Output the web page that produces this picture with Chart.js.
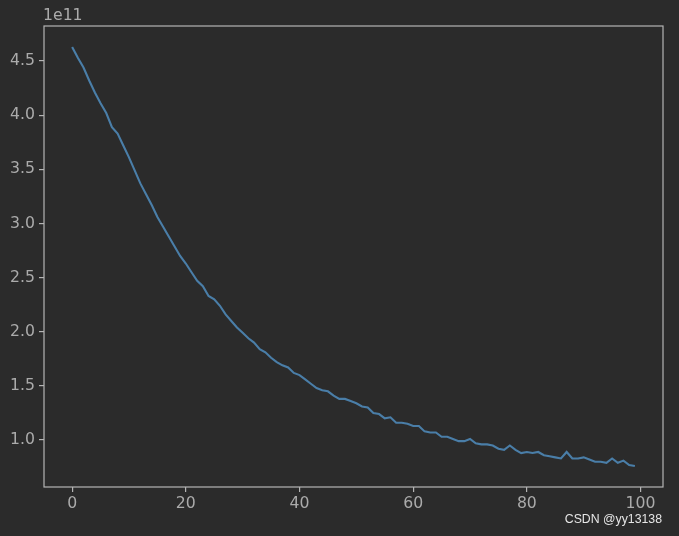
<!DOCTYPE html>
<html>
<head>
<meta charset="utf-8">
<script src="https://cdn.jsdelivr.net/npm/chart.js@4/dist/chart.umd.min.js"></script>
<style>
  html, body { margin: 0; padding: 0; background: #2b2b2b; }
  #wrap { width: 679px; height: 536px; position: relative; }
</style>
</head>
<body>
<div id="wrap"><canvas id="c" width="679" height="536"></canvas></div>
<script>
// ---- data (values in units of 1e11) ----
const SCALE = 1e11;
const epochs = Array.from({length: 100}, (_, i) => i);
const lossValues = [
  4.63, 4.53, 4.44, 4.32, 4.21, 4.11, 4.02, 3.89, 3.83, 3.72,
  3.61, 3.49, 3.37, 3.27, 3.17, 3.06, 2.97, 2.88, 2.79, 2.70,
  2.63, 2.55, 2.47, 2.42, 2.33, 2.30, 2.24, 2.16, 2.10, 2.04,
  1.99, 1.94, 1.90, 1.84, 1.81, 1.76, 1.72, 1.69, 1.67, 1.62,
  1.60, 1.56, 1.52, 1.48, 1.46, 1.45, 1.41, 1.38, 1.38, 1.36,
  1.34, 1.31, 1.30, 1.25, 1.24, 1.20, 1.21, 1.16, 1.16, 1.15,
  1.13, 1.13, 1.08, 1.07, 1.07, 1.03, 1.03, 1.01, 0.99, 0.99,
  1.01, 0.97, 0.96, 0.96, 0.95, 0.92, 0.91, 0.95, 0.91, 0.88,
  0.89, 0.88, 0.89, 0.86, 0.85, 0.84, 0.83, 0.89, 0.83, 0.83,
  0.84, 0.82, 0.80, 0.80, 0.79, 0.83, 0.79, 0.81, 0.77, 0.76
];
const xTicks = [0, 20, 40, 60, 80, 100];
const yTicks = [1.0, 1.5, 2.0, 2.5, 3.0, 3.5, 4.0, 4.5];
const offsetLabel = '1e11';
const watermark = 'CSDN @yy13138';

// ---- style ----
const BG = '#2b2b2b';
const SPINE = '#b4b4b4';
const TICKTXT = '#ababab';
const LINE = '#4a7ea8';
const FONT = 'DejaVu Sans';
const FS = 15.7;

const xs = epochs.map((e, i) => ({x: e, y: lossValues[i] * SCALE}));
const ymin = Math.min(...lossValues), ymax = Math.max(...lossValues);
const ypad = (ymax - ymin) * 0.05;
const xmin = epochs[0], xmax = epochs[epochs.length - 1];
const xpad = (xmax - xmin) * 0.05;

const framePlugin = {
  id: 'frame',
  beforeDraw(chart) {
    const ctx = chart.ctx;
    ctx.save();
    ctx.fillStyle = BG;
    ctx.fillRect(0, 0, chart.width, chart.height);
    ctx.restore();
  },
  afterDraw(chart) {
    const {ctx, chartArea: a} = chart;
    ctx.save();
    ctx.strokeStyle = SPINE;
    ctx.lineWidth = 1.2;
    ctx.strokeRect(a.left, a.top, a.right - a.left, a.bottom - a.top);
    ctx.fillStyle = TICKTXT;
    ctx.font = FS + 'px "' + FONT + '"';
    ctx.textAlign = 'left';
    ctx.textBaseline = 'alphabetic';
    ctx.fillText(offsetLabel, a.left - 1, a.top - 6);
    ctx.fillStyle = '#e6e6e6';
    ctx.font = '12.3px "Liberation Sans"';
    ctx.textAlign = 'right';
    ctx.textBaseline = 'alphabetic';
    ctx.fillText(watermark, chart.width - 17, chart.height - 13);
    ctx.restore();
  }
};

new Chart(document.getElementById('c'), {
  type: 'line',
  data: {
    datasets: [{
      data: xs,
      borderColor: LINE,
      borderWidth: 2.1,
      pointRadius: 0,
      tension: 0,
      fill: false
    }]
  },
  options: {
    responsive: false,
    animation: false,
    devicePixelRatio: 1,
    layout: { padding: { top: 26, right: 16, left: 0, bottom: 0 } },
    plugins: { legend: { display: false }, tooltip: { enabled: false } },
    scales: {
      x: {
        type: 'linear',
        min: xmin - xpad,
        max: xmax + xpad,
        afterBuildTicks(s) { s.ticks = xTicks.map(v => ({value: v})); },
        afterFit(s) { s.height = 49; },
        grid: { drawOnChartArea: false, color: SPINE, tickLength: 5, tickWidth: 1.2, lineWidth: 1.2 },
        border: { display: false },
        ticks: { color: TICKTXT, font: { family: FONT, size: FS }, padding: 3, maxRotation: 0,
                 callback: v => String(v) }
      },
      y: {
        type: 'linear',
        min: (ymin - ypad) * SCALE,
        max: (ymax + ypad) * SCALE,
        afterBuildTicks(s) { s.ticks = yTicks.map(v => ({value: v * SCALE})); },
        afterFit(s) { s.width = 44; },
        grid: { drawOnChartArea: false, color: SPINE, tickLength: 5, tickWidth: 1.2, lineWidth: 1.2 },
        border: { display: false },
        ticks: { color: TICKTXT, font: { family: FONT, size: FS }, padding: 4,
                 callback: v => (v / SCALE).toFixed(1) }
      }
    }
  },
  plugins: [framePlugin]
});
</script>
</body>
</html>
